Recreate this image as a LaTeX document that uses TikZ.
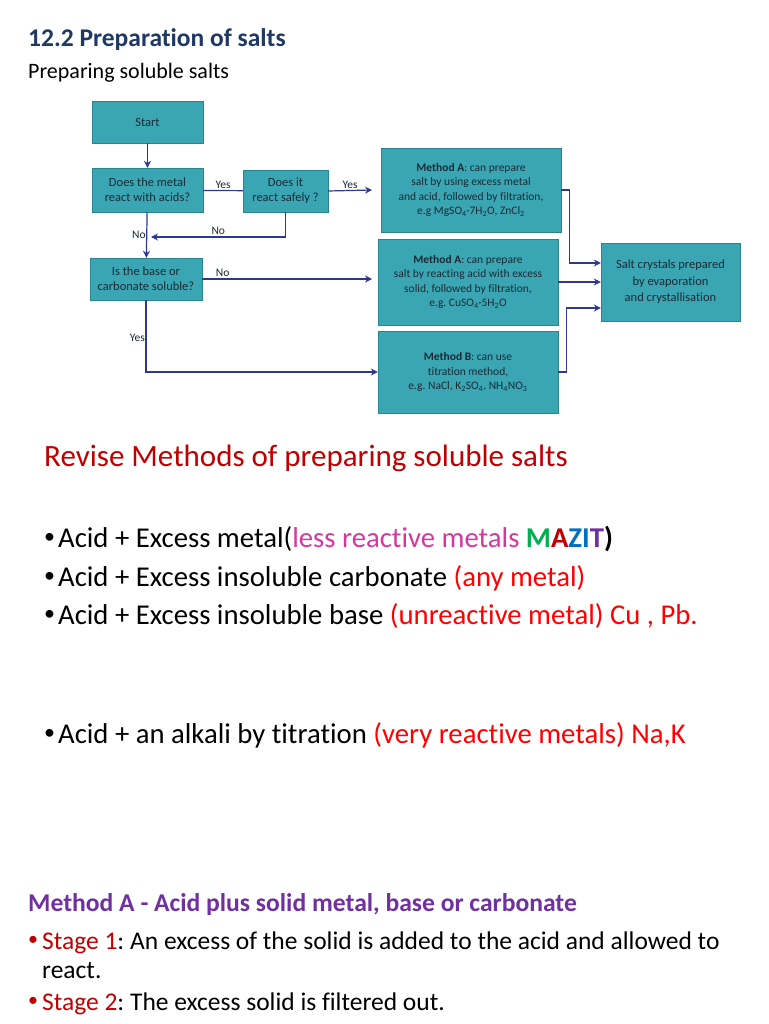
\documentclass[tikz,border=0pt]{standalone}
\usepackage{fontspec}
\setmainfont{Carlito}[Ligatures=CommonOff]
\usetikzlibrary{positioning,arrows.meta}
\definecolor{boxfill}{RGB}{58,166,180}
\definecolor{boxedge}{RGB}{40,132,142}
\definecolor{boxtext}{RGB}{25,42,52}
\definecolor{linkblue}{RGB}{45,55,150}
\definecolor{titleblue}{RGB}{31,56,100}
\definecolor{darkred}{RGB}{192,0,0}
\definecolor{brightred}{RGB}{255,0,0}
\definecolor{pinkmag}{RGB}{214,54,160}
\definecolor{mgreen}{RGB}{0,176,80}
\definecolor{zblue}{RGB}{0,112,192}
\definecolor{tpurple}{RGB}{112,48,160}
\newcommand{\smallbul}[2]{\raisebox{#2}{\fontsize{#1}{#1}\selectfont\textbullet}}
\frenchspacing

\begin{document}
\begin{tikzpicture}[x=1pt,y=-1pt,
    box/.style={draw=boxedge, fill=boxfill, text=boxtext, align=center,
        font=\fontsize{11.5}{14.5}\selectfont, inner sep=2pt},
    ask/.style={box, font=\fontsize{12.5}{15}\selectfont},
    lbl/.style={font=\fontsize{11.5}{13}\selectfont, text=boxtext, inner sep=1.5pt},
    link/.style={draw=linkblue, line width=1.2pt, -{Stealth[length=7pt,width=7pt]}},
    plain/.style={draw=linkblue, line width=1.2pt},
    txt/.style={anchor=base west, inner sep=0pt}]
    \useasboundingbox (0,0) rectangle (768,1024);

    % Headings
    \node[txt, font=\fontsize{25.5}{30}\selectfont\bfseries, text=titleblue] (title) at (28,47) {12.2 Preparation of salts};
    \node[txt, font=\fontsize{22}{26}\selectfont] (sub) at (28,79) {Preparing soluble salts};

    % Flowchart boxes
    \node[ask, minimum width=111pt, minimum height=42pt] (start) at (147.5,122) {Start};
    \node[ask, minimum width=111pt, minimum height=44pt] (metal) at (147.5,190) {Does the metal\\react with acids?};
    \node[ask, minimum width=85pt, minimum height=42pt] (safe) at (285.5,191) {Does it\\react safely ?};
    \node[ask, minimum width=112pt, minimum height=42pt] (base) at (146,279) {Is the base or\\carbonate soluble?};
    \node[box, minimum width=180pt, minimum height=84pt] (methA1) at (471,190)
        {\textbf{Method A}: can prepare\\salt by using excess metal\\and acid, followed by filtration,\\e.g MgSO\textsubscript{4}·7H\textsubscript{2}O, ZnCl\textsubscript{2}};
    \node[box, minimum width=180pt, minimum height=86pt] (methA2) at (468,282)
        {\textbf{Method A}: can prepare\\salt by reacting acid with excess\\solid, followed by filtration,\\e.g. CuSO\textsubscript{4}·5H\textsubscript{2}O};
    \node[box, minimum width=180pt, minimum height=82pt] (methB) at (468,372)
        {\textbf{Method B}: can use\\titration method,\\e.g. NaCl, K\textsubscript{2}SO\textsubscript{4}, NH\textsubscript{4}NO\textsubscript{3}};
    \node[box, minimum width=139pt, minimum height=78pt, font=\fontsize{12.5}{16.5}\selectfont] (salt) at (670.5,282)
        {Salt crystals prepared\\by evaporation\\and crystallisation};

    % Free ends
    \coordinate (yesend) at (372,190);
    \coordinate (nojoin) at (151,237);
    \coordinate (noend) at (372,279);

    % Connectors
    \draw[link] (start) -- (metal);
    \draw[plain] (metal) -- node[lbl, above] {Yes} (safe);
    \draw[link] (safe.east) -- node[lbl, above] {Yes} (yesend);
    \draw[link] (safe.south) |- node[lbl, pos=0.75, above] {No} (nojoin);
    \draw[link] (metal) -- node[lbl, left, inner sep=0.5pt] {No} (base);
    \draw[link] (base.east) -- node[lbl, pos=0.12, above] {No} (noend);
    \draw[link] (base.south) |- node[lbl, pos=0.26, left, inner sep=0.5pt] {Yes} (methB.west);
    \draw[link] (methA1.east) -- ++(8,0) |- ([yshift=19pt]salt.west);
    \draw[link] (methA2) -- (salt);
    \draw[link] (methB.east) -- ++(8,0) |- ([yshift=-26pt]salt.west);

    % Revision notes
    \node[txt, font=\fontsize{31}{36}\selectfont, text=darkred] (revise) at (44,466) {Revise Methods of preparing soluble salts};
    \begin{scope}[every node/.style={txt, font=\fontsize{28.7}{32}\selectfont}]
        \node (b1) at (44,547) {\smallbul{22}{4pt}\hspace{3pt}Acid + Excess metal(\textcolor{pinkmag}{less reactive metals} \textbf{\textcolor{mgreen}{M}\textcolor{darkred}{A}\textcolor{zblue}{ZI}\textcolor{tpurple}{T})}};
        \node (b2) at (44,586) {\smallbul{22}{4pt}\hspace{3pt}Acid + Excess insoluble carbonate \textcolor{brightred}{(any metal)}};
        \node (b3) at (44,624) {\smallbul{22}{4pt}\hspace{3pt}Acid + Excess insoluble base \textcolor{brightred}{(unreactive metal) Cu , Pb.}};
        \node (b4) at (44,743) {\smallbul{22}{4pt}\hspace{3pt}Acid + an alkali by titration \textcolor{brightred}{(very reactive metals) Na,K}};
    \end{scope}

    % Method A stages
    \node[txt, font=\fontsize{25.6}{30}\selectfont\bfseries, text=tpurple] (mhead) at (28,911) {Method A - Acid plus solid metal, base or carbonate};
    \begin{scope}[every node/.style={txt, font=\fontsize{25.5}{30}\selectfont}]
        \node (s1) at (28,949) {\textcolor{darkred}{\smallbul{20}{3.5pt}\hspace{4pt}Stage 1}: An excess of the solid is added to the acid and allowed to};
        \node (s1b) at (42,978) {react.};
        \node (s2) at (28,1010) {\textcolor{darkred}{\smallbul{20}{3.5pt}\hspace{4pt}Stage 2}: The excess solid is filtered out.};
    \end{scope}
\end{tikzpicture}
\end{document}
